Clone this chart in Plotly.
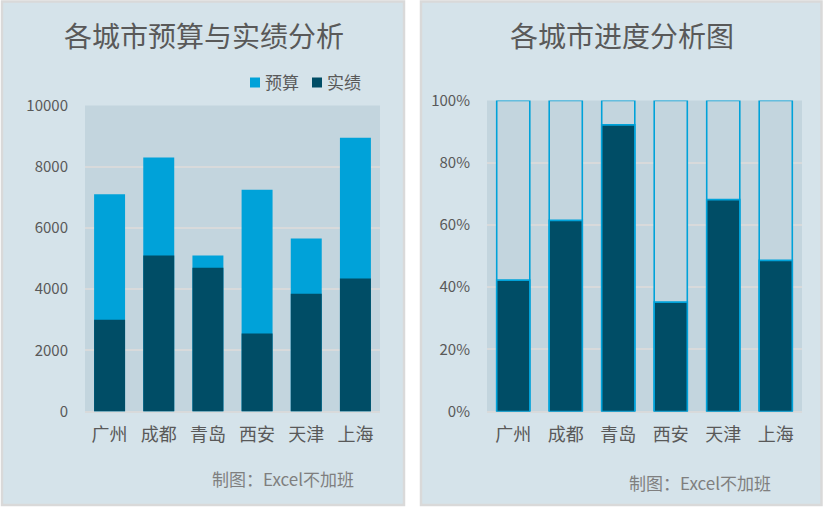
import plotly.graph_objects as go

cities = ["广州", "成都", "青岛", "西安", "天津", "上海"]
budget = [7100, 8300, 5100, 7250, 5650, 8950]
actual = [3000, 5100, 4700, 2550, 3850, 4350]
full = [1, 1, 1, 1, 1, 1]
ratio = [a / b for a, b in zip(actual, budget)]

series_names = ["预算", "实绩"]
left_ticks = [0, 2000, 4000, 6000, 8000, 10000]
left_labels = ["0", "2000", "4000", "6000", "8000", "10000"]
right_ticks = [0, 0.2, 0.4, 0.6, 0.8, 1.0]
right_labels = ["0%", "20%", "40%", "60%", "80%", "100%"]

W, H = 825, 508
BLUE = "#00a2d9"
DARK = "#004d66"
PANEL = "#d5e3ea"
PLOTBG = "#c3d5de"
GRID = "#d8dadb"
TXT = "#595959"
FONT = "Noto Sans CJK SC"


def px(x):
    return x / W


def py(y):
    return 1 - y / H


L_X = (85, 380)
L_Y = (105.5, 411.5)
R_X = (487, 802)
R_Y = (100.5, 411.5)

fig = go.Figure()

fig.add_trace(go.Bar(x=cities, y=budget, name=series_names[0], showlegend=False,
                     marker=dict(color=BLUE, line=dict(width=0)), xaxis="x", yaxis="y"))
fig.add_trace(go.Bar(x=cities, y=actual, name=series_names[1], showlegend=False,
                     marker=dict(color=DARK, line=dict(width=0)), xaxis="x", yaxis="y"))
fig.add_trace(go.Bar(x=cities, y=full, showlegend=False,
                     marker=dict(color=PLOTBG, line=dict(color=BLUE, width=1.6)),
                     xaxis="x2", yaxis="y2"))
fig.add_trace(go.Bar(x=cities, y=ratio, showlegend=False,
                     marker=dict(color=DARK, line=dict(color=BLUE, width=1.6)),
                     xaxis="x2", yaxis="y2"))

shapes = []
for x0, x1 in [(2, 404), (421, 821.5)]:
    shapes.append(dict(type="rect", xref="paper", yref="paper", x0=px(x0), x1=px(x1),
                       y0=py(505), y1=py(1.5), fillcolor=PANEL,
                       line=dict(color="#d9d9d9", width=2.5), layer="below"))
for (x0, x1), (y0, y1) in [(L_X, L_Y), (R_X, R_Y)]:
    shapes.append(dict(type="rect", xref="paper", yref="paper", x0=px(x0), x1=px(x1),
                       y0=py(y1), y1=py(y0), fillcolor=PLOTBG, line=dict(width=0), layer="below"))

# legend (swatch + label)
annotations = []
for name, color, sx in [(series_names[0], BLUE, 250), (series_names[1], DARK, 312)]:
    shapes.append(dict(type="rect", xref="paper", yref="paper", x0=px(sx), x1=px(sx + 10),
                       y0=py(87.5), y1=py(77.5), fillcolor=color, line=dict(width=0)))
    annotations.append(dict(text=name, x=px(sx + 12.5), y=py(82), xref="paper", yref="paper",
                            showarrow=False, xanchor="left", yanchor="middle",
                            font=dict(family=FONT, size=17, color=TXT)))

annotations += [
    dict(text="各城市预算与实绩分析", x=px(204), y=py(35), xref="paper", yref="paper",
         showarrow=False, xanchor="center", yanchor="middle",
         font=dict(family=FONT, size=28, color=TXT)),
    dict(text="各城市进度分析图", x=px(622), y=py(35), xref="paper", yref="paper",
         showarrow=False, xanchor="center", yanchor="middle",
         font=dict(family=FONT, size=28, color=TXT)),
    dict(text="制图：Excel不加班", x=px(283), y=py(478), xref="paper", yref="paper",
         showarrow=False, xanchor="center", yanchor="middle",
         font=dict(family=FONT, size=17, color="#7f7f7f")),
    dict(text="制图：Excel不加班", x=px(700), y=py(482), xref="paper", yref="paper",
         showarrow=False, xanchor="center", yanchor="middle",
         font=dict(family=FONT, size=17, color="#7f7f7f")),
]

fig.update_layout(
    width=W, height=H,
    margin=dict(l=0, r=0, t=0, b=0, pad=0, autoexpand=False),
    paper_bgcolor="white",
    plot_bgcolor="rgba(0,0,0,0)",
    barmode="overlay",
    bargap=0.37,
    font=dict(family=FONT, color=TXT),
    shapes=shapes,
    showlegend=False,
    xaxis=dict(domain=[px(L_X[0]), px(L_X[1])], anchor="y", showgrid=False, automargin=False,
               tickfont=dict(family=FONT, size=18, color=TXT), ticks="", ticklabelstandoff=10),
    yaxis=dict(domain=[py(L_Y[1]), py(L_Y[0])], anchor="x", range=[0, 10000], automargin=False,
               tickvals=left_ticks, ticktext=left_labels, showgrid=True, gridcolor=GRID, gridwidth=2,
               zeroline=True, zerolinecolor=GRID, zerolinewidth=2,
               tickfont=dict(family=FONT, size=15, color=TXT), ticks="", ticklabelstandoff=16),
    xaxis2=dict(domain=[px(R_X[0]), px(R_X[1])], anchor="y2", showgrid=False, automargin=False,
                tickfont=dict(family=FONT, size=18, color=TXT), ticks="", ticklabelstandoff=10),
    yaxis2=dict(domain=[py(R_Y[1]), py(R_Y[0])], anchor="x2", range=[0, 1], automargin=False,
                tickvals=right_ticks, ticktext=right_labels, showgrid=True, gridcolor=GRID, gridwidth=2,
                zeroline=True, zerolinecolor=GRID, zerolinewidth=2,
                tickfont=dict(family=FONT, size=15, color=TXT), ticks="", ticklabelstandoff=16),
    annotations=annotations,
)

fig.write_html("out.html")
